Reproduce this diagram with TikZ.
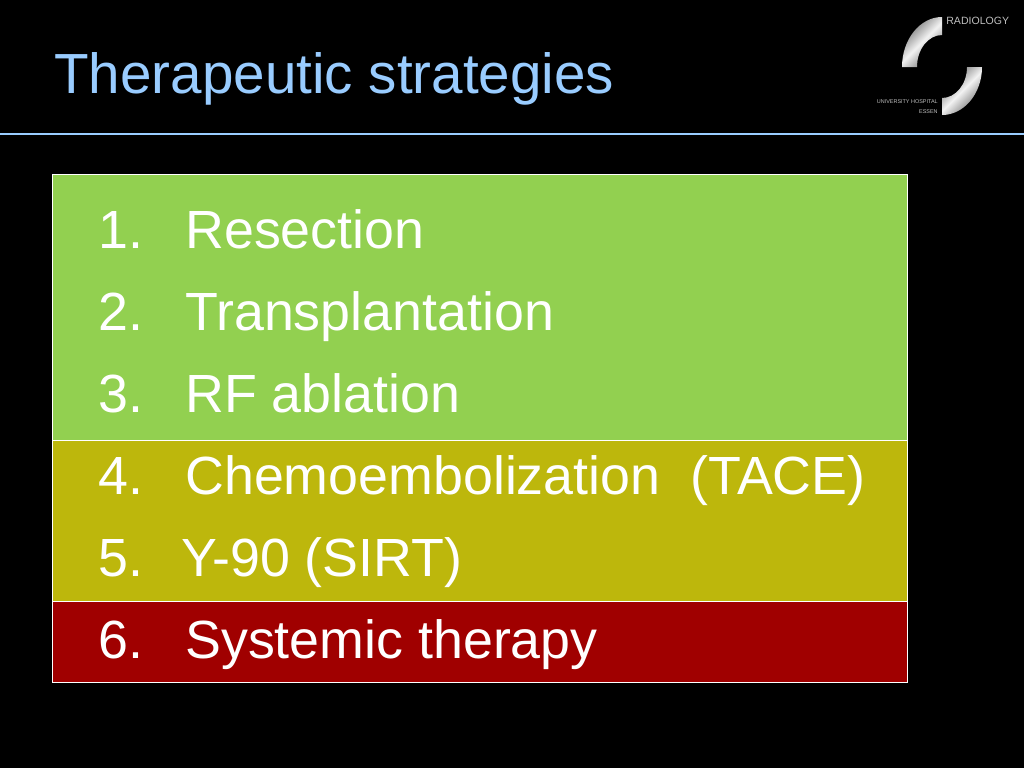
\documentclass[tikz,border=0pt]{standalone}
\usepackage{fontspec}
\setmainfont{Liberation Sans}
\usetikzlibrary{positioning}
\definecolor{titleblue}{HTML}{99CCFF}
\definecolor{boxgreen}{HTML}{92D050}
\definecolor{boxolive}{HTML}{BDB70C}
\definecolor{boxred}{HTML}{A00000}
\tikzset{
    band/.style={draw=white, line width=0.8pt, minimum width=855*0.02cm, inner sep=0pt, anchor=north west},
    item/.style={text=white, font=\fontsize{30.6}{32}\selectfont, inner sep=0pt, anchor=base west},
    logotext/.style={text=white!75!black, inner sep=0pt},
    ring/.style={left color=gray!80!black, right color=gray!80!black, middle color=white!90!gray, draw=none},
}

\begin{document}
\begin{tikzpicture}[x=0.02cm,y=-0.02cm]
  % page
  \fill[black] (0,0) rectangle (1024,768);
  \useasboundingbox (0,0) rectangle (1024,768);

  % title and rule
  \node[text=titleblue, font=\fontsize{32.2}{34}\selectfont, inner sep=0pt, anchor=base west] (title) at (54,93) {Therapeutic strategies};
  \draw[titleblue, line width=1.7pt] (0,134) -- (1024,134);

  % logo
  \shade[ring, shading angle=45] (942,17) arc[start angle=-90, end angle=-180, x radius=40, y radius=50]
    -- (917,67) arc[start angle=-180, end angle=-90, x radius=25, y radius=32] -- cycle;
  \shade[ring, shading angle=45] (982,67) arc[start angle=0, end angle=90, x radius=40, y radius=48]
    -- (942,98) arc[start angle=90, end angle=0, x radius=25, y radius=31] -- cycle;
  \node[logotext, font=\fontsize{6}{7}\selectfont, anchor=west] (radiology) at (946,21) {RADIOLOGY};
  \node[logotext, font=\fontsize{3.1}{4}\selectfont, anchor=east] (hospital) at (938,102) {UNIVERSITY HOSPITAL};
  \node[logotext, font=\fontsize{3.1}{4}\selectfont, anchor=east] (essen) at (938,112) {ESSEN};

  % bands
  \node[band, fill=boxgreen, minimum height=266*0.02cm] (b1) at (51.5,173.5) {};
  \node[band, fill=boxolive, minimum height=161*0.02cm] (b2) at (51.5,439.5) {};
  \node[band, fill=boxred, minimum height=81*0.02cm] (b3) at (51.5,600.5) {};

  % list
  \node[item] (n1) at (98,248) {1.};
  \node[item] (t1) at (185,248) {Resection};
  \node[item] (n2) at (98,330) {2.};
  \node[item] (t2) at (185,330) {Transplantation};
  \node[item] (n3) at (98,412) {3.};
  \node[item] (t3) at (185,412) {RF ablation};
  \node[item] (n4) at (98,494) {4.};
  \node[item] (t4) at (185,494) {Chemoembolization~~(TACE)};
  \node[item] (n5) at (98,576) {5.};
  \node[item] (t5) at (181,576) {Y-90 (SIRT)};
  \node[item] (n6) at (98,658) {6.};
  \node[item] (t6) at (185,658) {Systemic therapy};
\end{tikzpicture}
\end{document}
